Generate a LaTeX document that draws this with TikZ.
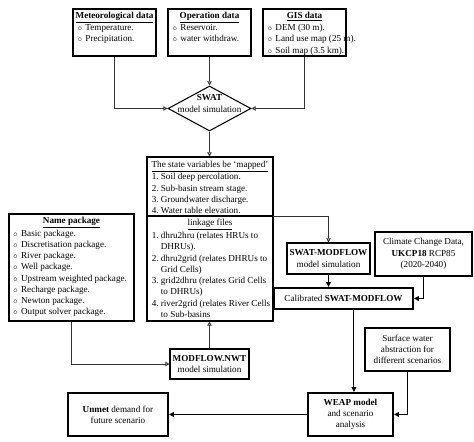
\documentclass[tikz,border=0pt]{standalone}
\usepackage{fontspec}
\setmainfont{Liberation Serif}
\usetikzlibrary{arrows.meta,shapes.geometric}
\newcommand{\itemdot}{\makebox[5.8pt][l]{$\scriptscriptstyle\circ$}}
\newcommand{\itemno}[1]{\makebox[6.4pt][l]{#1}}
\newcommand{\itemgap}{\hspace*{6.4pt}}
\begin{document}
\begin{tikzpicture}[x=1cm,y=1cm,
  font=\fontsize{6.5}{8}\selectfont,
  box/.style={draw, line width=0.75pt, inner sep=0pt, align=center},
  bbox/.style={box, line width=1.3pt},
  txt/.style={inner sep=0pt, align=left, anchor=north west},
  ttl/.style={inner sep=0pt, anchor=base},
  oarrow/.style={draw=black!80, line width=0.7pt, -{Triangle[open,length=3pt,width=3.2pt]}},
  farrow/.style={line width=0.8pt, -{Triangle[length=3.5pt,width=3.2pt]}}]
\useasboundingbox (0,0) rectangle (11.85,11.05);

% input data
\node[box, minimum width=2.075cm, minimum height=1.175cm] (met) at (2.8625,10.2375) {};
\node[box, minimum width=2.075cm, minimum height=1.175cm] (opr) at (5.2375,10.2375) {};
\node[box, minimum width=2.075cm, minimum height=1.175cm] (gis) at (7.6125,10.2375) {};
\node[ttl] (mettitle) at (2.8625,10.5975) {\underline{\textbf{Meteorological data}}};
\node[ttl] (oprtitle) at (5.2375,10.5975) {\underline{\textbf{Operation data}}};
\node[ttl] (gistitle) at (7.6125,10.5975) {\underline{\textbf{GIS data}}};
\node[txt] (metlist) at (1.925,10.45) {\itemdot Temperature.\\\itemdot Precipitation.};
\node[txt] (oprlist) at (4.3,10.45) {\itemdot Reservoir.\\\itemdot water withdraw.};
\node[txt] (gislist) at (6.675,10.45) {\itemdot DEM (30 m).\\\itemdot Land use map (25 m).\\\itemdot Soil map (3.5 km).};

% SWAT
\node[draw, diamond, line width=0.75pt, inner sep=0pt,
  minimum width=2.075cm, minimum height=1.125cm] (swat) at (5.2375,8.3375) {};
\node[ttl] (swattitle) at (5.2375,8.53) {\textbf{SWAT}};
\node[ttl] (swatsub) at (5.2375,8.245) {model simulation};

% mapped state variables and linkage files
\node[box, minimum width=3.15cm, minimum height=4.1cm] (state) at (5.25,5.075) {};
\coordinate (mapL) at (3.675,5.65);
\coordinate (mapR) at (6.825,5.65);
\draw[line width=0.75pt] (mapL) -- (mapR);
\node[ttl] (statetitle) at (5.25,6.86) {\underline{The state variables be `mapped'}};
\node[txt] (statelist) at (3.79,6.72) {\itemno{1.}Soil deep percolation.\\
  \itemno{2.}Sub-basin stream stage.\\
  \itemno{3.}Groundwater discharge.\\
  \itemno{4.}Water table elevation.};
\node[ttl] (linktitle) at (5.25,5.41) {\underline{linkage files}};
\node[txt] (linklist) at (3.79,5.25) {\itemno{1.}dhru2hru (relates HRUs to\\
  \itemgap DHRUs).\\
  \itemno{2.}dhru2grid (relates DHRUs to\\
  \itemgap Grid Cells)\\
  \itemno{3.}grid2dhru (relates Grid Cells\\
  \itemgap to DHRUs)\\
  \itemno{4.}river2grid (relates River Cells\\
  \itemgap to Sub-basins};

% MODFLOW packages
\node[box, minimum width=3.125cm, minimum height=2.675cm] (name) at (1.7875,4.3625) {};
\node[ttl] (nametitle) at (1.7875,5.46) {\underline{\textbf{Name package}}};
\node[txt] (namelist) at (0.3175,5.31) {\itemdot Basic package.\\
  \itemdot Discretisation package.\\
  \itemdot River package.\\
  \itemdot Well package.\\
  \itemdot Upstream weighted package.\\
  \itemdot Recharge package.\\
  \itemdot Newton package.\\
  \itemdot Output solver package.};
\node[box, minimum width=1.975cm, minimum height=0.75cm] (modflow) at (5.2375,1.95) {\textbf{MODFLOW.NWT}\\model simulation};

% coupled model and scenarios
\node[box, minimum width=2.075cm, minimum height=0.775cm] (swatmf) at (8.2125,4.5875) {\textbf{SWAT-MODFLOW}\\model simulation};
\node[bbox, minimum width=2.425cm, minimum height=1.1cm] (climate) at (10.5875,4.7) {Climate Change Data,\\\textbf{UKCP18} RCP85\\(2020-2040)};
\node[bbox, minimum width=3.475cm, minimum height=0.525cm] (calib) at (8.5875,3.5875) {Calibrated \textbf{SWAT-MODFLOW}};
\node[box, line width=1pt, minimum width=2.125cm, minimum height=1.075cm] (surface) at (10.1875,2.3125) {Surface water\\abstraction for\\different scenarios};
\node[bbox, minimum width=2.125cm, minimum height=1.075cm] (weap) at (8.7625,0.6875) {\textbf{WEAP model}\\and scenario\\analysis};
\node[bbox, minimum width=2.5cm, minimum height=1.075cm] (unmet) at (2.95,0.6875) {\textbf{Unmet} demand for\\future scenario};

% connectors
\draw[oarrow] (met.south) |- (swat.west);
\draw[oarrow] (opr.south) -- (swat.north);
\draw[oarrow] (gis.south) |- (swat.east);
\draw[oarrow] (swat.south) -- (swat.south |- state.north);
\draw[oarrow] (name.south) |- (modflow.west);
\draw[oarrow] (modflow.north) -- (modflow.north |- state.south);
\draw[oarrow] (mapR) -| (swatmf.north);
\draw[farrow] (swatmf.south) -- (swatmf.south |- calib.north);
\draw[farrow] (climate.south) |- (calib.east);
\draw[farrow] ([xshift=2.6mm]calib.south) -- ([xshift=2.6mm]calib.south |- weap.north);
\draw[farrow] (surface.south) |- (weap.east);
\draw[farrow] (weap.west) -- (unmet.east);
\end{tikzpicture}
\end{document}
